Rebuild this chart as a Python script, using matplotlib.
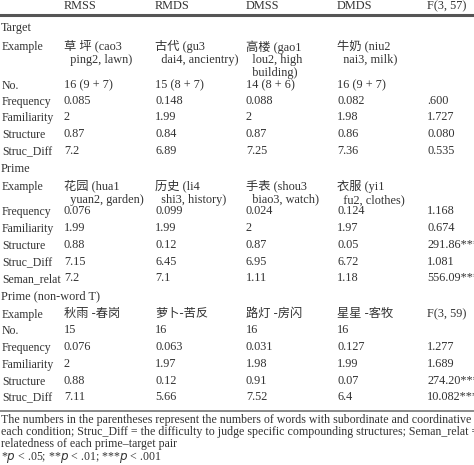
import matplotlib
matplotlib.use("Agg")
import matplotlib.pyplot as plt

plt.rcParams['font.family'] = ['Liberation Serif', 'Noto Sans CJK SC']

headers = ["RMSS", "RMDS", "DMSS", "DMDS", "F(3, 57)"]

target_rows = [
    ("Example", ["草 坪 (cao3\n  ping2, lawn)", "古代 (gu3\n  dai4, ancientry)", "高楼 (gao1\n  lou2, high\n  building)", "牛奶 (niu2\n  nai3, milk)", ""]),
    ("No.", ["16 (9 + 7)", "15 (8 + 7)", "14 (8 + 6)", "16 (9 + 7)", ""]),
    ("Frequency", ["0.085", "0.148", "0.088", "0.082", ".600"]),
    ("Familiarity", ["2", "1.99", "2", "1.98", "1.727"]),
    ("Structure", ["0.87", "0.84", "0.87", "0.86", "0.080"]),
    ("Struc_Diff", ["7.2", "6.89", "7.25", "7.36", "0.535"]),
]
prime_rows = [
    ("Example", ["花园 (hua1\n  yuan2, garden)", "历史 (li4\n  shi3, history)", "手表 (shou3\n  biao3, watch)", "衣服 (yi1\n  fu2, clothes)", ""]),
    ("Frequency", ["0.076", "0.099", "0.024", "0.124", "1.168"]),
    ("Familiarity", ["1.99", "1.99", "2", "1.97", "0.674"]),
    ("Structure", ["0.88", "0.12", "0.87", "0.05", "291.86***"]),
    ("Struc_Diff", ["7.15", "6.45", "6.95", "6.72", "1.081"]),
    ("Seman_relat", ["7.2", "7.1", "1.11", "1.18", "556.09***"]),
]
nonword_rows = [
    ("Example", ["秋雨 -春岗", "萝卜-苦反", "路灯 -房闪", "星星 -客牧", "F(3, 59)"]),
    ("No.", ["15", "16", "16", "16", ""]),
    ("Frequency", ["0.076", "0.063", "0.031", "0.127", "1.277"]),
    ("Familiarity", ["2", "1.97", "1.98", "1.99", "1.689"]),
    ("Structure", ["0.88", "0.12", "0.91", "0.07", "274.20***"]),
    ("Struc_Diff", ["7.11", "5.66", "7.52", "6.4", "10.082***"]),
]
sections = [("Target", 28, target_rows, [47, 86, 102, 118, 135, 152]),
            ("Prime", 169, prime_rows, [187, 212, 229, 246, 263, 279]),
            ("Prime (non-word T)", 296, nonword_rows, [315, 331, 348, 365, 382, 398])]

footnote = ["The numbers in the parentheses represent the numbers of words with subordinate and coordinative structure in",
            "each condition; Struc_Diff = the difficulty to judge specific compounding structures; Seman_relat = semantic",
            "relatedness of each prime\u2013target pair"]

W, H = 474, 465
fig = plt.figure(figsize=(W/100, H/100), dpi=100)
fig.patch.set_facecolor('white')
col_x = [64, 155, 246, 337, 427]
fs = 8.8
col = '#333333'

def T(x, y, s, **kw):
    fig.text(x / W, 1 - y / H, s, fontsize=kw.pop('fs', fs), color=col, va='center', ha='left',
             linespacing=1.05, **kw)

for x, h in zip(col_x, headers):
    T(x, 6, h)
fig.add_artist(plt.Line2D([0, 1], [1 - 15/H]*2, color='#555555', lw=2.2))

for title, ty, rows, ys in sections:
    T(1, ty, title)
    for (lab, vals), y in zip(rows, ys):
        T(2, y, lab, fs=8.5)
        for x, v in zip(col_x, vals):
            if not v:
                continue
            fig.text(x / W, 1 - (y - 7) / H, v, fontsize=fs, color=col, va='top', ha='left', linespacing=1.1)

fig.add_artist(plt.Line2D([0, 1], [1 - 411/H]*2, color='#777777', lw=1.2))
for i, (line, y) in enumerate(zip(footnote, [420, 432, 444])):
    T(1, y, line, fs=8.6)
T(1, 457, "*$p$ < .05; **$p$ < .01; ***$p$ < .001", fs=8.6)

fig.savefig("out.png", dpi=100, facecolor='white')
